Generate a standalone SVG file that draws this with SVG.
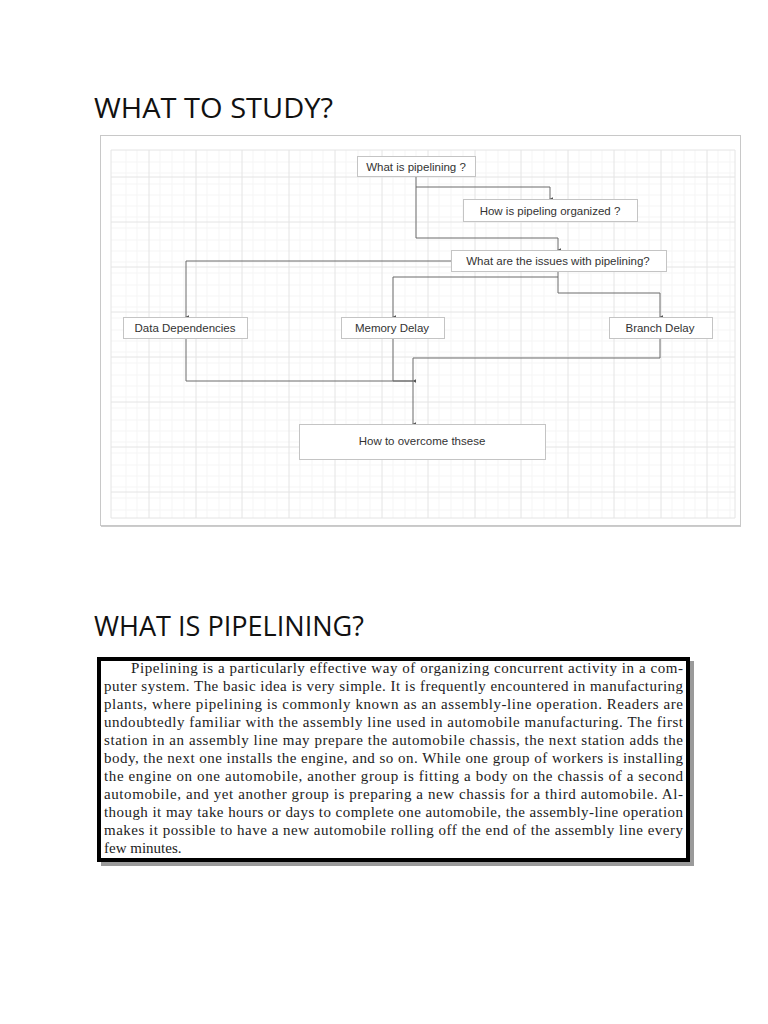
<svg xmlns="http://www.w3.org/2000/svg" width="768" height="1024" viewBox="0 0 768 1024">
<style>
.title{font-family:"Open Sans","Liberation Sans",sans-serif;font-size:27px;fill:#111}
.node rect{fill:#fff;stroke:#c4c4c4;stroke-width:1}
.node text{font-family:"Liberation Sans",Arial,sans-serif;font-size:11.5px;fill:#333;text-anchor:middle}
.major{stroke:#e4e4e4;stroke-width:1}
.minor{stroke:#f5f5f5;stroke-width:1}
.conn path{fill:none;stroke:#6a6a6a;stroke-width:1}
.para{font-family:"Liberation Serif","Times New Roman",serif;font-size:15px;fill:#222}
</style>
<defs>
<marker id="arr" viewBox="0 0 6 6" refX="3" refY="5" markerWidth="4" markerHeight="4" orient="auto-start-reverse" markerUnits="userSpaceOnUse">
<path d="M0,0 L6,0 L3,6 Z" fill="#555"/>
</marker>
</defs>
<rect width="768" height="1024" fill="#fff"/>

<text class="title" x="94" y="118" textLength="239" lengthAdjust="spacingAndGlyphs">WHAT TO STUDY?</text>

<!-- diagram frame -->
<rect x="101" y="137" width="640" height="390" fill="#9a9a9a" opacity="0.5"/>
<rect x="100.5" y="135.5" width="640" height="390" fill="#fff" stroke="#c8c8c8"/>
<g id="grid">
<g class="minor">
<path d="M111,162 H735 M111,173 H735 M111,184 H735 M111,195 H735 M111,206 H735 M111,217 H735 M111,228 H735 M111,240 H735 M111,251 H735 M111,262 H735 M111,273 H735 M111,285 H735 M111,296 H735 M111,307 H735 M111,318 H735 M111,330 H735 M111,341 H735 M111,352 H735 M111,363 H735 M111,375 H735 M111,386 H735 M111,397 H735 M111,408 H735 M111,420 H735 M111,431 H735 M111,442 H735 M111,453 H735 M111,465 H735 M111,476 H735 M111,487 H735 M111,498 H735 M111,510 H735"/>
<path d="M126,150 V518 M137,150 V518 M160,150 V518 M172,150 V518 M184,150 V518 M207,150 V518 M219,150 V518 M230,150 V518 M253,150 V518 M265,150 V518 M277,150 V518 M300,150 V518 M312,150 V518 M323,150 V518 M346,150 V518 M358,150 V518 M370,150 V518 M393,150 V518 M405,150 V518 M416,150 V518 M439,150 V518 M451,150 V518 M463,150 V518 M486,150 V518 M498,150 V518 M509,150 V518 M532,150 V518 M544,150 V518 M556,150 V518 M579,150 V518 M591,150 V518 M602,150 V518 M625,150 V518 M637,150 V518 M649,150 V518 M672,150 V518 M684,150 V518 M695,150 V518 M718,150 V518 M730,150 V518"/>
</g>
<g class="major">
<path d="M111,150 H735 M111,177 H735 M111,222 H735 M111,267 H735 M111,312 H735 M111,357 H735 M111,402 H735 M111,447 H735 M111,492 H735 M111,518 H735"/>
<path d="M111,150 V518 M149,150 V518 M196,150 V518 M242,150 V518 M289,150 V518 M335,150 V518 M382,150 V518 M428,150 V518 M475,150 V518 M521,150 V518 M568,150 V518 M614,150 V518 M661,150 V518 M707,150 V518 M735,150 V518"/>
</g>
</g>

<g id="connectors" class="conn">
<path d="M416,176 V187 H550 V199" marker-end="url(#arr)"/>
<path d="M416,187 V238 H558 V250" marker-end="url(#arr)"/>
<path d="M451,261 H186 V317" marker-end="url(#arr)"/>
<path d="M558,271 V277 H393 V317" marker-end="url(#arr)"/>
<path d="M558,277 V293 H660 V317" marker-end="url(#arr)"/>
<path d="M186,338 V381 H413"/>
<path d="M393,338 V381 H413"/>
<path d="M660,338 V358 H413 V381" marker-end="url(#arr)"/>
<path d="M413,381 V424" marker-end="url(#arr)"/>
</g>

<g id="n1" class="node"><rect x="357.5" y="156.5" width="118" height="20"/><text x="416" y="170.5">What is pipelining ?</text></g>
<g id="n2" class="node"><rect x="463.5" y="199.5" width="174" height="22"/><text x="550" y="214.5">How is pipeling organized ?</text></g>
<g id="n3" class="node"><rect x="451.5" y="250.5" width="215" height="21"/><text x="558" y="265">What are the issues with pipelining?</text></g>
<g id="n4" class="node"><rect x="123.5" y="317.5" width="124" height="21"/><text x="185" y="332">Data Dependencies</text></g>
<g id="n5" class="node"><rect x="341.5" y="317.5" width="103" height="21"/><text x="392" y="332">Memory Delay</text></g>
<g id="n6" class="node"><rect x="609.5" y="317.5" width="103" height="21"/><text x="660" y="332">Branch Delay</text></g>
<g id="n7" class="node"><rect x="299.5" y="424.5" width="246" height="35"/><text x="422" y="445">How to overcome thsese</text></g>

<text class="title" x="94" y="636" textLength="270" lengthAdjust="spacingAndGlyphs">WHAT IS PIPELINING?</text>

<!-- text box -->
<rect x="101" y="661" width="593" height="205" fill="#9a9a9a"/>
<rect x="99" y="659" width="589" height="201" fill="#fff" stroke="#000" stroke-width="4"/>
<g class="para">
<text x="131" y="673" textLength="552" lengthAdjust="spacing">Pipelining is a particularly effective way of organizing concurrent activity in a com-</text>
<text x="104" y="691" textLength="579" lengthAdjust="spacing">puter system. The basic idea is very simple. It is frequently encountered in manufacturing</text>
<text x="104" y="709" textLength="579" lengthAdjust="spacing">plants, where pipelining is commonly known as an assembly-line operation.  Readers are</text>
<text x="104" y="727" textLength="579" lengthAdjust="spacing">undoubtedly familiar with the assembly line used in automobile manufacturing.  The first</text>
<text x="104" y="745" textLength="579" lengthAdjust="spacing">station in an assembly line may prepare the automobile chassis, the next station adds the</text>
<text x="104" y="763" textLength="579" lengthAdjust="spacing">body, the next one installs the engine, and so on.  While one group of workers is installing</text>
<text x="104" y="781" textLength="579" lengthAdjust="spacing">the engine on one automobile, another group is fitting a body on the chassis of a second</text>
<text x="104" y="799" textLength="579" lengthAdjust="spacing">automobile, and yet another group is preparing a new chassis for a third automobile.  Al-</text>
<text x="104" y="817" textLength="579" lengthAdjust="spacing">though it may take hours or days to complete one automobile, the assembly-line operation</text>
<text x="104" y="835" textLength="579" lengthAdjust="spacing">makes it possible to have a new automobile rolling off the end of the assembly line every</text>
<text x="104" y="853">few minutes.</text>
</g>
</svg>
